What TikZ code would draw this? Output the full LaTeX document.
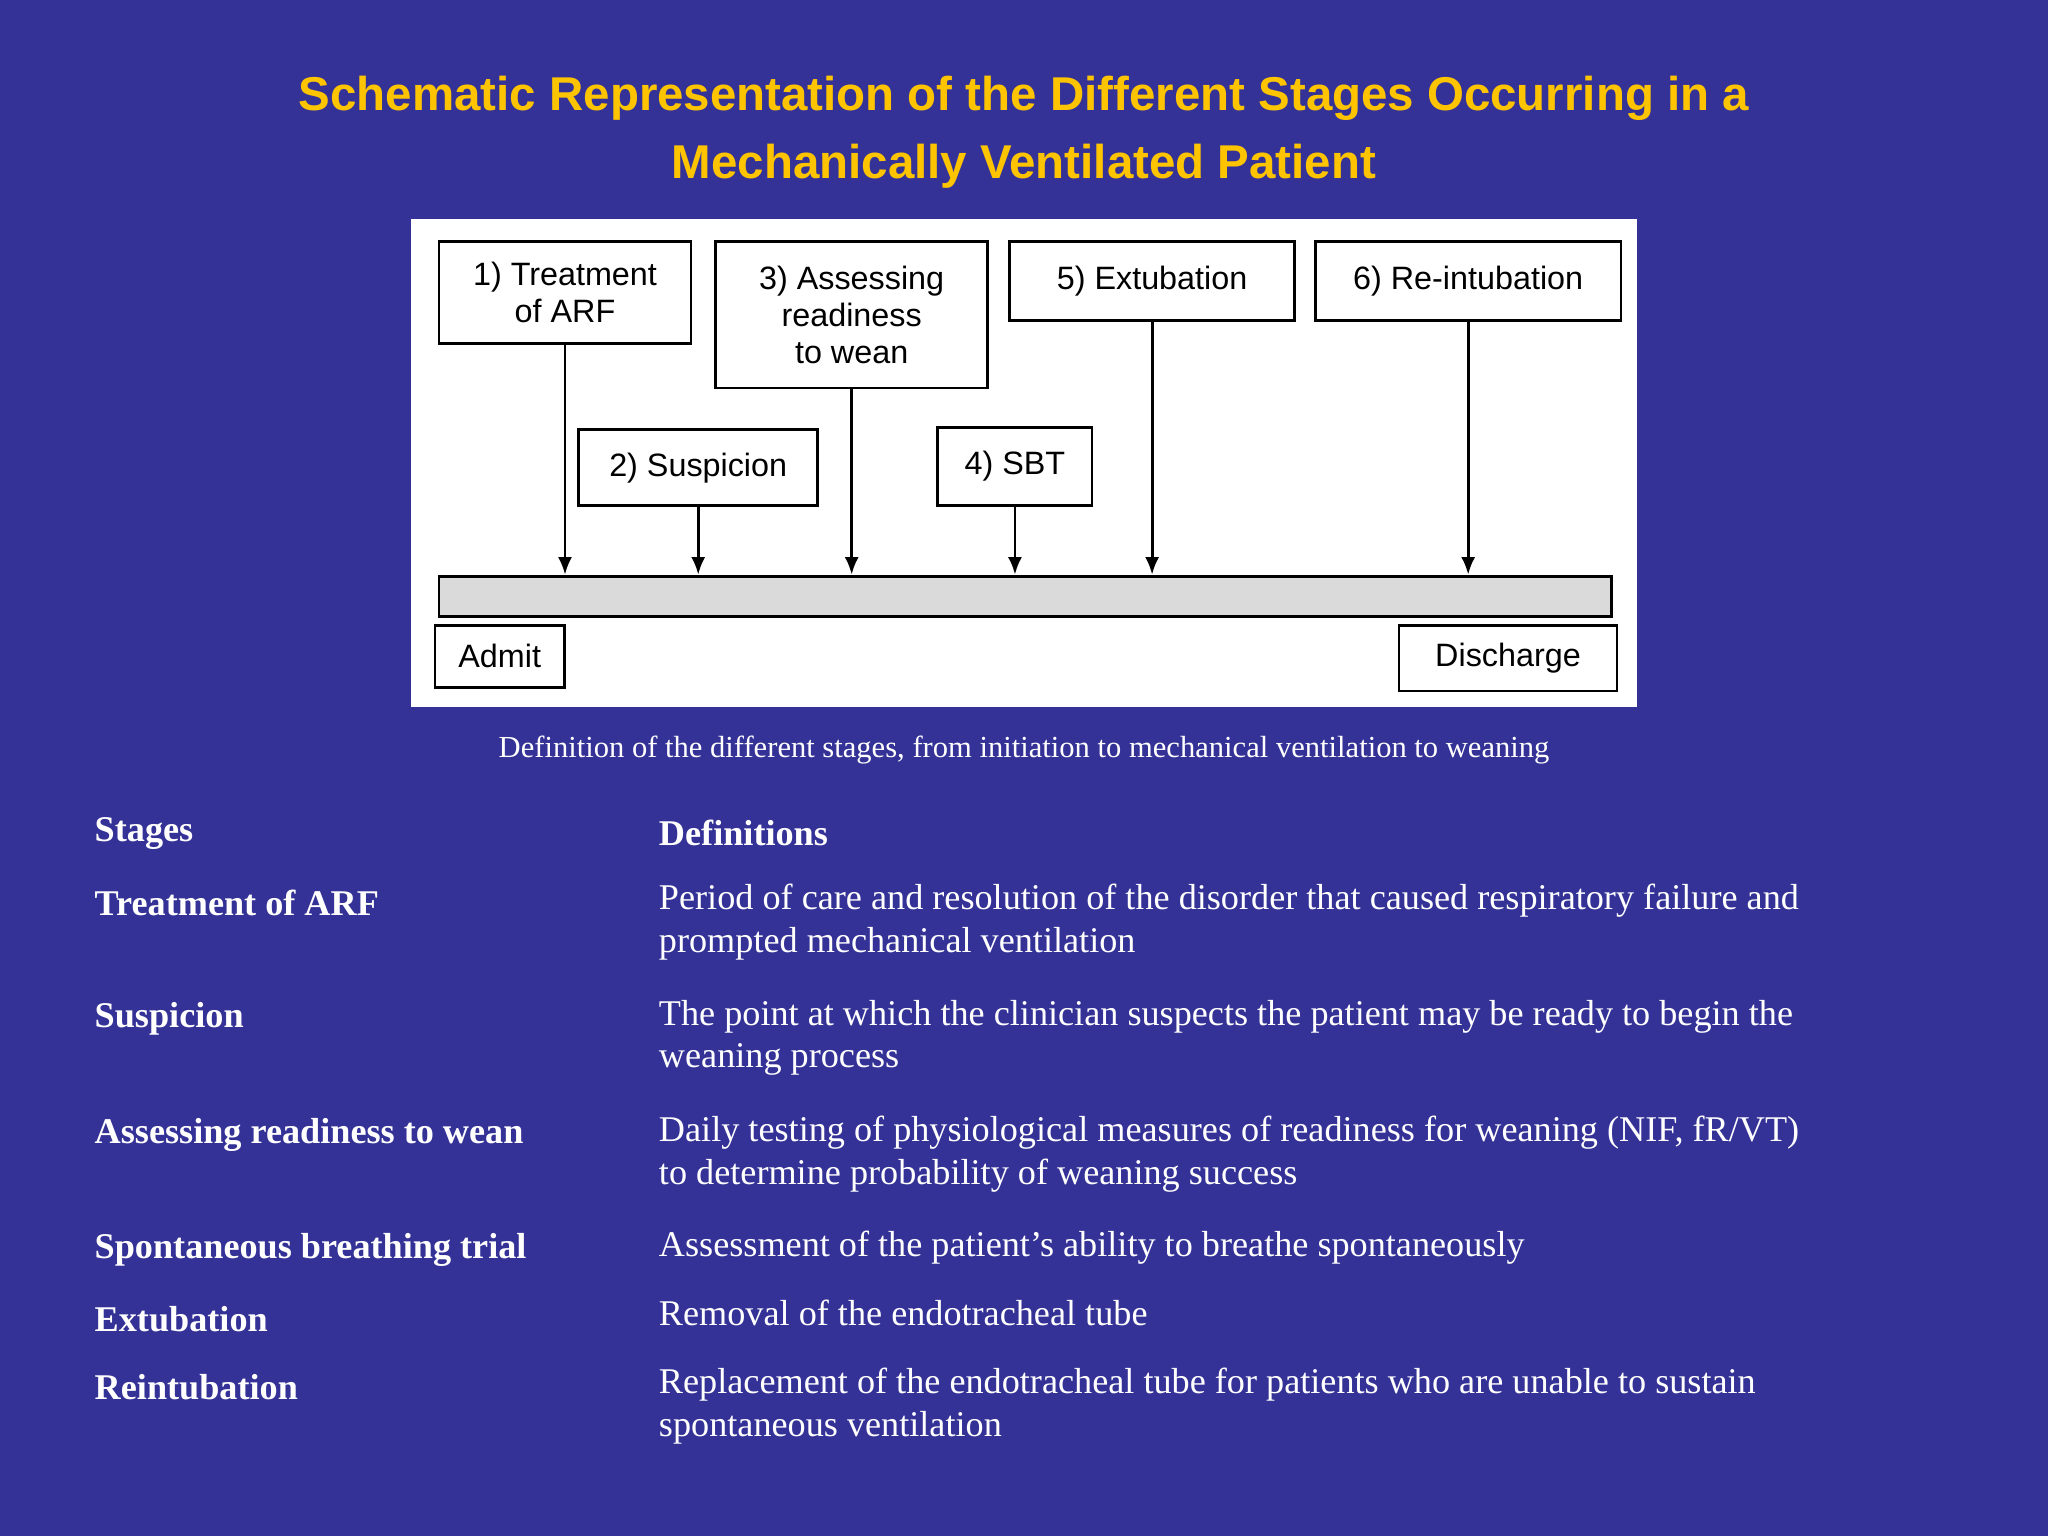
\documentclass[tikz,border=0pt]{standalone}
\usepackage{fontspec}
\setmainfont{Liberation Serif}
\setsansfont{Liberation Sans}
\usetikzlibrary{arrows.meta,positioning}
\definecolor{slidebg}{RGB}{52,50,150}
\definecolor{titleyellow}{RGB}{255,196,0}
\definecolor{barfill}{RGB}{218,218,218}
\tikzset{
  stage/.style 2 args={draw, thick, rectangle, fill=white, align=center, inner sep=0pt,
    minimum width=#1*0.01306cm, minimum height=#2*0.01306cm, anchor=north west,
    font=\sffamily\fontsize{9.2}{10.6}\selectfont},
  arrow/.style={-{Latex[length=5pt,width=4pt]}, thick},
  stagehead/.style={anchor=west, text=white, font=\bfseries\fontsize{10.3}{12.2}\selectfont, inner sep=0pt},
  stagedef/.style={anchor=north west, text=white, align=left, font=\fontsize{10.3}{12.2}\selectfont, inner sep=0pt}
}
\begin{document}
\begin{tikzpicture}[x=0.01306cm, y=-0.01306cm]

% background and title
\fill[slidebg] (0,0) rectangle (1568,1176);
\useasboundingbox (0,0) rectangle (1568,1176);
\node[align=center, text=titleyellow, font=\sffamily\bfseries\fontsize{13.5}{19.3}\selectfont] (title) at (784,101)
  {Schematic Representation of the Different Stages Occurring in a\\Mechanically Ventilated Patient};

% timeline panel
\fill[white] (315,168) rectangle (1253,541);
\node[stage={193}{78}] (s1) at (335,184) {1) Treatment\\of ARF};
\node[stage={183}{58}] (s2) at (442,328) {2) Suspicion};
\node[stage={208}{112}] (s3) at (547,184) {3) Assessing\\readiness\\to wean};
\node[stage={118}{60}] (s4) at (717,326) {4) SBT};
\node[stage={218}{60}] (s5) at (772,184) {5) Extubation};
\node[stage={234}{60}] (s6) at (1006,184) {6) Re-intubation};
\node[draw, thick, fill=barfill, inner sep=0pt, minimum width=898*0.01306cm,
  minimum height=31*0.01306cm, anchor=north west] (bar) at (335,440) {};
\node[stage={99}{47}] (admit) at (332,478) {Admit};
\node[stage={167}{50}] (discharge) at (1070,478) {Discharge};

\foreach \s in {s1,s2,s3,s4,s5,s6}
  \draw[arrow] (\s.south) -- (\s.south |- bar.north);

\node[text=white, font=\fontsize{8.7}{10}\selectfont] (caption) at (784,574)
  {Definition of the different stages, from initiation to mechanical ventilation to weaning};

% table
\node[stagehead] (hstage) at (72,638) {Stages};
\node[stagehead] (hdef) at (504,638) {Definitions};
\node[stagehead] (t1) at (72,691) {Treatment of ARF};
\node[stagedef] (d1) at (504,676) {Period of care and resolution of the disorder that caused respiratory failure and\\prompted mechanical ventilation};
\node[stagehead] (t2) at (72,780) {Suspicion};
\node[stagedef] (d2) at (504,765) {The point at which the clinician suspects the patient may be ready to begin the\\weaning process};
\node[stagehead] (t3) at (72,869) {Assessing readiness to wean};
\node[stagedef] (d3) at (504,854) {Daily testing of physiological measures of readiness for weaning (NIF, fR/VT)\\to determine probability of weaning success};
\node[stagehead] (t4) at (72,957) {Spontaneous breathing trial};
\node[stagedef] (d4) at (504,942) {Assessment of the patient’s ability to breathe spontaneously};
\node[stagehead] (t5) at (72,1010) {Extubation};
\node[stagedef] (d5) at (504,995) {Removal of the endotracheal tube};
\node[stagehead] (t6) at (72,1062) {Reintubation};
\node[stagedef] (d6) at (504,1047) {Replacement of the endotracheal tube for patients who are unable to sustain\\spontaneous ventilation};

\end{tikzpicture}
\end{document}
